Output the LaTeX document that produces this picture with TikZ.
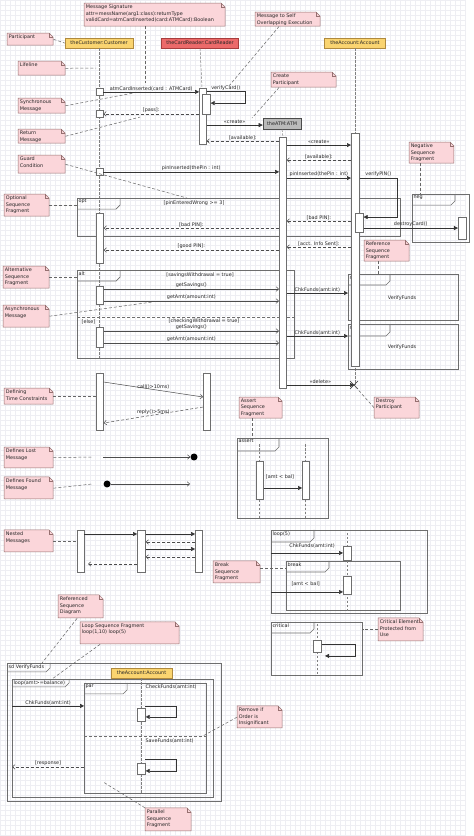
\documentclass[tikz,border=0pt]{standalone}
\usepackage{fontspec}
\setmainfont{DejaVu Sans}
\usetikzlibrary{arrows.meta,positioning,calc}
\definecolor{notefill}{RGB}{251,214,218}
\definecolor{noteline}{RGB}{150,112,112}
\definecolor{custfill}{RGB}{250,212,112}
\definecolor{custline}{RGB}{176,138,62}
\definecolor{crfill}{RGB}{236,106,106}
\definecolor{crline}{RGB}{168,62,62}
\definecolor{atmfill}{RGB}{186,186,186}
\definecolor{framegray}{RGB}{110,110,110}
\definecolor{gridcol}{RGB}{238,238,243}
\newcommand{\umlfont}{\fontsize{4.9}{6.6}\selectfont}
\newcommand{\umlnote}[6]{%
  \filldraw[notebox] (#2,#3) -- (#4-4,#3) -- (#4,#3+4) -- (#4,#5) -- (#2,#5) -- cycle;
  \draw[notebox,fill=none] (#4-4,#3) -- (#4-4,#3+4) -- (#4,#3+4);
  \node[anchor=north west, inner sep=0pt, minimum width={(#4-#2)*1pt}, minimum height={(#5-#3)*1pt},
        label={[notetext]north west:{#6}}] (#1) at (#2,#3) {};}
\newcommand{\umlframe}[8]{%
  \node[framebox, anchor=north west, minimum width={(#4-#2)*1pt}, minimum height={(#5-#3)*1pt}] (#1) at (#2,#3) {};
  \draw[framebox] (#2,#7) -- (#6-4,#7) -- (#6,#7-4) -- (#6,#3);
  \node[anchor=north west, inner sep=1.3pt] at (#2,#3) {#8};}
\newcommand{\act}[5]{%
  \node[actbox, anchor=north west, minimum width={(#4-#2)*1pt}, minimum height={(#5-#3)*1pt}] (#1) at (#2,#3) {};}

\begin{document}
\begin{tikzpicture}[x=1pt,y=-1pt,
    every node/.style={font=\umlfont, text=black!85},
    notebox/.style={fill=notefill, draw=noteline, line width=0.5pt},
    notetext/.style={anchor=north west, align=left, inner sep=1.6pt},
    lifehead/.style={draw, line width=0.6pt, minimum height=10pt, inner sep=1pt},
    framebox/.style={draw=framegray, line width=0.6pt},
    actbox/.style={draw=framegray, fill=white, line width=0.6pt},
    lifeline/.style={draw=gray, dash pattern=on 2.5pt off 1.5pt, line width=0.5pt},
    link/.style={draw=gray!80!black, dash pattern=on 3pt off 2pt, line width=0.5pt},
    sync/.style={draw=black!80, line width=0.5pt, -{Triangle[length=4pt,width=4pt]}},
    async/.style={draw=black!70, line width=0.5pt, -{Straight Barb[length=2.5pt,width=4.5pt]}},
    reply/.style={async, dash pattern=on 3pt off 2pt},
    lbl/.style={midway, above, inner sep=0.8pt},
    msgdot/.style={circle, fill=black, inner sep=0pt, minimum size=7pt}]
    \fill[white] (0,0) rectangle (474,836);
    \draw[gridcol, line width=0.2pt, step=5pt] (0,0) grid (465,836);
    \useasboundingbox (0,0) rectangle (474,836);

    \node[lifehead, fill=custfill, draw=custline, minimum width=68pt] (cust) at (99,43) {theCustomer:Customer};
    \node[lifehead, fill=crfill, draw=crline, minimum width=77pt] (cr) at (200,43) {theCardReader:CardReader};
    \node[lifehead, fill=custfill, draw=custline, minimum width=61pt] (acc) at (355,43) {theAccount:Account};
    \node[lifehead, fill=atmfill, draw=black!70, minimum width=38pt, minimum height=11pt] (atm) at (282,123.5) {theATM:ATM};
    \draw[lifeline] (cust.south) -- (99,358);
    \draw[lifeline] (cr.south) -- (202,88);
    \draw[lifeline] (acc.south) -- (355,385);
    \draw[lifeline] (atm.south) -- (283,137);

    \umlframe{opt}{77}{198}{400}{236}{120}{209}{opt}
    \umlframe{neg}{412}{194}{469}{242}{455}{205}{neg}
    \umlframe{alt}{77}{270}{294}{358}{120}{281}{alt}
    \umlframe{ref1}{348}{274}{458}{320}{390}{285}{ref}
    \umlframe{ref2}{348}{324}{458}{369}{390}{336}{ref}
    \node at (194,203) {[pinEnteredWrong >= 3]};
    \node at (200,275) {[savingsWithdrawal = true]};
    \node at (204,321) {[checkingWithdrawal = true]};
    \node[anchor=west] at (78,322) {[else]};
    \draw[framebox, dash pattern=on 3pt off 2pt] (alt.west |- 0,317) -- (alt.east |- 0,317);
    \node at (402,298) {VerifyFunds};
    \node at (402,347) {VerifyFunds};

    \act{c1}{96}{88}{102}{95}
    \act{c2}{96}{110}{102}{117}
    \act{c3}{96}{168}{102}{175}
    \act{c4}{96}{213}{103}{263}
    \act{c5}{96}{286}{103}{304}
    \act{c6}{96}{327}{103}{347}
    \act{r1}{199}{88}{206}{144}
    \act{r2}{202}{94}{210}{114}
    \act{a1}{279}{137}{286}{388}
    \act{k1}{351}{133}{359}{366}
    \act{k2}{355}{213}{363}{232}
    \act{n1}{458}{217}{466}{239}

    \draw[sync] (c1.east) -- (r1.west |- c1.east) node[lbl]{atmCardInserted(card : ATMCard)};
    \draw[sync] (r1.east |- 0,91) -- (245,91) node[lbl]{verifyCard()} -- (245,103) -- (r2.east |- 0,103);
    \draw[reply] (r1.west |- c2.east) -- (c2.east) node[lbl]{[pass]:};
    \draw[sync] (r1.east |- 0,125) -- (atm.west |- 0,125) node[lbl]{«create»};
    \draw[reply] (a1.west |- 0,141) -- (r1.east |- 0,141) node[lbl]{[available]:};
    \draw[sync] (a1.east |- 0,145) -- (k1.west |- 0,145) node[lbl]{«create»};
    \draw[reply] (k1.west |- 0,160) -- (a1.east |- 0,160) node[lbl]{[available]:};
    \draw[sync] (c3.east) -- (a1.west |- c3.east) node[lbl]{pinInserted(thePin : int)};
    \draw[sync] (a1.east |- 0,178) -- (k1.west |- 0,178) node[lbl]{pinInserted(thePin : int)};
    \draw[sync] (k1.east |- 0,178) -- (397,178) node[lbl]{verifyPIN()} -- (397,217) -- (k2.east |- 0,217);
    \draw[reply] (a1.west |- 0,228) -- (c4.east |- 0,228) node[lbl]{[bad PIN]:};
    \draw[reply] (k1.west |- 0,221) -- (a1.east |- 0,221) node[lbl]{[bad PIN]:};
    \draw[sync] (k2.east |- 0,228) -- (n1.west |- 0,228) node[lbl]{destroyCard()};
    \draw[reply] (a1.west |- 0,250) -- (c4.east |- 0,250) node[lbl]{[good PIN]:};
    \draw[reply] (k1.west |- 0,247) -- (a1.east |- 0,247) node[lbl]{[acct. Info Sent]:};
    \draw[async] (c5.east |- 0,289) -- (a1.west |- 0,289) node[lbl]{getSavings()};
    \draw[async] (c5.east |- 0,301) -- (a1.west |- 0,301) node[lbl]{getAmt(amount:int)};
    \draw[async] (c6.east |- 0,331) -- (a1.west |- 0,331) node[lbl]{getSavings()};
    \draw[async] (c6.east |- 0,343) -- (a1.west |- 0,343) node[lbl]{getAmt(amount:int)};
    \draw[sync] (a1.east |- 0,293) -- (ref1.west |- 0,293) node[lbl]{ChkFunds(amt:int)};
    \draw[sync] (a1.east |- 0,336) -- (ref2.west |- 0,336) node[lbl]{ChkFunds(amt:int)};
    \coordinate (xdel) at (354,385);
    \draw[sync] (a1.east |- xdel) -- (xdel) node[lbl]{«delete»};
    \draw[black!80, line width=0.6pt] (350,381) -- (358,389) (350,389) -- (358,381);

    \act{t1}{96}{373}{103}{430}
    \act{t2}{203}{373}{210}{430}
    \draw[async] (t1.east |- 0,382) -- (t2.west |- 0,397) node[midway, above, inner sep=0pt]{call()>10ms)};
    \draw[reply] (t2.west |- 0,407) -- (t1.east |- 0,423) node[midway, above, inner sep=0pt]{reply()>5ms)};

    \node[msgdot] (lostdot) at (194,457) {};
    \draw[async] (103,457) -- (lostdot.west);
    \node[msgdot] (founddot) at (107,484) {};
    \draw[async] (founddot.east) -- (190,484);

    \umlframe{assert}{237}{438}{328}{518}{279}{451}{assert}
    \draw[lifeline] (259,444) -- (259,518) (305,444) -- (305,518);
    \act{s1}{256}{461}{263}{499}
    \act{s2}{302}{461}{309}{499}
    \draw[sync] (s1.east |- 0,488) -- (s2.west |- 0,488);
    \node at (280,477) {[amt < bal]};

    \act{m1}{77}{530}{83}{572}
    \act{m2}{137}{530}{145}{572}
    \act{m3}{195}{530}{202}{572}
    \draw[sync] (m1.east |- 0,534) -- (m2.west |- 0,534);
    \draw[sync] (m2.east |- 0,534) -- (m3.west |- 0,534);
    \draw[reply] (m3.west |- 0,542) -- (m2.east |- 0,542);
    \draw[sync] (m2.east |- 0,549) -- (m3.west |- 0,549);
    \draw[reply] (m3.west |- 0,557) -- (m2.east |- 0,557);
    \draw[reply] (m2.west |- 0,564) -- (88,564);

    \umlframe{loopfive}{271}{530}{427}{613}{314}{542}{loop(5)}
    \umlframe{break}{286}{561}{400}{610}{329}{572}{break}
    \draw[lifeline] (347,533) -- (347,613);
    \act{l1}{343}{546}{351}{560}
    \act{l2}{343}{576}{351}{594}
    \draw[sync] (loopfive.west |- 0,553) -- (l1.west |- 0,553);
    \node at (312,546) {ChkFunds(amt:int)};
    \draw[sync] (loopfive.west |- 0,592) -- (l2.west |- 0,592);
    \node[anchor=west] at (288,584) {[amt < bal]};

    \umlframe{critical}{271}{622}{362}{675}{314}{633}{critical}
    \draw[lifeline] (317,624) -- (317,675);
    \act{cr1}{313}{640}{321}{652}
    \draw[sync] (cr1.east |- 0,644) -- (355,644) -- (355,656) -- (325,656);

    \umlframe{sd}{7}{663}{221}{801}{50}{672}{sd VerifyFunds}
    \umlframe{loopbal}{12}{679}{213}{797}{69}{687}{loop(amt>=balance)}
    \umlframe{par}{84}{683}{206}{793}{127}{694}{par}
    \node[lifehead, fill=custfill, draw=custline, minimum width=61pt] (acc2) at (141.5,673) {theAccount:Account};
    \draw[lifeline] (acc2.south -| 141,0) -- (141,793);
    \node[anchor=west] at (142,687) {CheckFunds(amt:int)};
    \node[anchor=west] at (142,741) {SaveFunds(amt:int)};
    \draw[framebox, dash pattern=on 3pt off 2pt] (par.west |- 0,736) -- (par.east |- 0,736);
    \act{p1}{137}{708}{145}{721}
    \act{p2}{137}{763}{145}{774}
    \draw[sync] (145,706) -- (176,706) -- (176,717) -- (p1.east |- 0,717);
    \draw[sync] (145,759) -- (176,759) -- (176,771) -- (p2.east |- 0,771);
    \draw[sync] (loopbal.west |- 0,706) -- (par.west |- 0,706) node[lbl]{ChkFunds(amt:int)};
    \draw[reply] (par.west |- 0,767) -- (loopbal.west |- 0,767) node[lbl]{[response]};

    \umlnote{sig}{84}{3}{225}{26}{Message Signature\\attr=messName(arg1:class):returnType\\validCard=atmCardInserted(card:ATMCard):Boolean}
    \umlnote{part}{7}{33}{53}{45}{Participant}
    \umlnote{self}{255}{12}{320}{26}{Message to Self\\Overlapping Execution}
    \umlnote{life}{18}{61}{65}{75}{Lifeline}
    \umlnote{create}{271}{72}{336}{87}{Create\\Participant}
    \umlnote{syncm}{18}{98}{65}{113}{Synchronous\\Message}
    \umlnote{ret}{18}{129}{65}{143}{Return\\Message}
    \umlnote{guard}{18}{155}{65}{173}{Guard\\Condition}
    \umlnote{negn}{409}{142}{454}{163}{Negative\\Sequence\\Fragment}
    \umlnote{optn}{4}{194}{49}{216}{Optional\\Sequence\\Fragment}
    \umlnote{refn}{364}{240}{409}{261}{Reference\\Sequence\\Fragment}
    \umlnote{altn}{3}{266}{49}{288}{Alternative\\Sequence\\Fragment}
    \umlnote{asyn}{3}{305}{49}{327}{Asynchronous\\Message}
    \umlnote{time}{4}{388}{53}{404}{Defining\\Time Constraints}
    \umlnote{assertn}{239}{397}{282}{418}{Assert\\Sequence\\Fragment}
    \umlnote{destroy}{374}{397}{419}{418}{Destroy\\Participant}
    \umlnote{lost}{4}{447}{53}{468}{Defines Lost\\Message}
    \umlnote{found}{4}{477}{53}{499}{Defines Found\\Message}
    \umlnote{nested}{4}{530}{53}{552}{Nested\\Messages}
    \umlnote{brk}{213}{561}{260}{583}{Break\\Sequence\\Fragment}
    \umlnote{refd}{58}{595}{103}{618}{Referenced\\Sequence\\Diagram}
    \umlnote{crit}{378}{618}{423}{641}{Critical Element\\Protected from\\Use}
    \umlnote{loopn}{80}{622}{179}{644}{Loop Sequence Fragment\\loop(1,10) loop(5)}
    \umlnote{remove}{237}{706}{282}{728}{Remove if\\Order is\\Insignificant}
    \umlnote{parn}{145}{808}{191}{831}{Parallel\\Sequence\\Fragment}

    \draw[link] (sig.south -| 145,0) -- (145,83);
    \draw[link] (part.east) -- (cust.west);
    \draw[link] (self.south -| 279,0) -- (228,87);
    \draw[link] (life.east) -- (96,68);
    \draw[link] (create.south -| 279,0) -- (252,118);
    \draw[link] (syncm.east) -- (133,93);
    \draw[link] (ret.east) -- (140,117);
    \draw[link] (guard.east) -- (187,198);
    \draw[link] (negn.south -| 420,0) -- (neg.north -| 420,0);
    \draw[link] (optn.east) -- (opt.west |- optn.east);
    \draw[link] (refn.south -| 378,0) -- (ref1.north -| 378,0);
    \draw[link] (altn.east) -- (alt.west |- altn.east);
    \draw[link] (asyn.east) -- (152,302);
    \draw[link] (time.east) -- (t1.west |- time.east);
    \draw[link] (assertn.south -| 252,0) -- (assert.north -| 252,0);
    \draw[link] (destroy.west) -- (xdel);
    \draw[link] (lost.east) -- (92,457);
    \draw[link] (found.east) -- (92,484);
    \draw[link] (nested.east) -- (m1.west |- nested.east);
    \draw[link] (brk.east |- 0,568) -- (break.west |- 0,568);
    \draw[link] (crit.west |- 0,629) -- (critical.east |- 0,629);
    \draw[link] (refd.south -| 77,0) -- (sd.north -| 42,0);
    \draw[link] (loopn.south -| 100,0) -- (52,679);
    \draw[link] (remove.west) -- (203,736);
    \draw[link] (parn.north west) -- (103,782);
\end{tikzpicture}
\end{document}
